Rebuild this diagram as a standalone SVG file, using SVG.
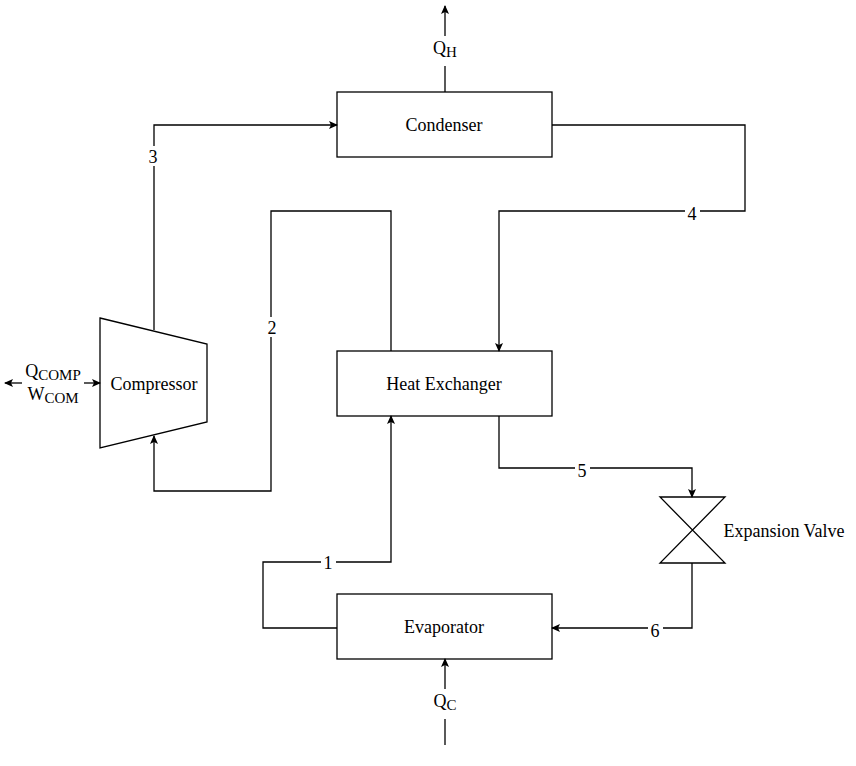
<svg xmlns="http://www.w3.org/2000/svg" width="856" height="766" viewBox="0 0 856 766" font-family="'Liberation Serif', 'Times New Roman', serif">
<style>
text{font-family:'Liberation Serif','Times New Roman',serif;font-size:18px;fill:#000;text-anchor:middle}
.s{font-size:15px}
.l{fill:none;stroke:#000;stroke-width:1.3}
.a{marker-end:url(#ar)}
.bg{fill:#fff;stroke:none}
</style>
<defs><marker id="ar" markerWidth="10" markerHeight="10" refX="8" refY="5" orient="auto" markerUnits="userSpaceOnUse"><path d="M0,1 L9,5 L0,9 L2,5 z" fill="#000"/></marker></defs>
<rect width="856" height="766" fill="#fff"/>
<g id="connectors">
<path class="l a" d="M154,330 V125 H337"/>
<path class="l a" d="M445,92 V6"/>
<path class="l a" d="M552,125 H745 V211 H499 V351"/>
<path class="l a" d="M391,351 V211 H271 V491 H154 V436"/>
<path class="l a" d="M499,416 V468 H692 V497"/>
<path class="l a" d="M692,563 V628 H552"/>
<path class="l a" d="M337,628 H263 V562 H391 V416"/>
<path class="l a" d="M445,745 V659"/>
<path class="l a" d="M22,383 H5"/>
<path class="l a" d="M84,383 H100"/>
<rect class="bg" x="146" y="146" width="15" height="20"/><text x="153" y="163">3</text>
<rect class="bg" x="685" y="203" width="15" height="20"/><text x="692" y="220">4</text>
<rect class="bg" x="265" y="317" width="15" height="20"/><text x="272" y="334">2</text>
<rect class="bg" x="575" y="460" width="15" height="20"/><text x="582" y="477">5</text>
<rect class="bg" x="648" y="620" width="15" height="20"/><text x="655" y="637">6</text>
<rect class="bg" x="321" y="552" width="15" height="20"/><text x="328" y="569">1</text>
<rect class="bg" x="428" y="36" width="34" height="30"/>
<text x="445" y="54">Q<tspan class="s" dy="3">H</tspan></text>
<rect class="bg" x="428" y="689" width="34" height="30"/>
<text x="445" y="707">Q<tspan class="s" dy="3">C</tspan></text>
<text x="53" y="377">Q<tspan class="s" dy="3">COMP</tspan></text>
<text x="53" y="400">W<tspan class="s" dy="3">COM</tspan></text>
</g>
<g id="condenser"><rect class="l" x="337" y="92" width="215" height="65"/><text x="444" y="131">Condenser</text></g>
<g id="heat-exchanger"><rect class="l" x="337" y="351" width="215" height="65"/><text x="444" y="390">Heat Exchanger</text></g>
<g id="evaporator"><rect class="l" x="337" y="594" width="215" height="65"/><text x="444" y="633">Evaporator</text></g>
<g id="compressor"><path class="l" d="M100,318 L207,344 V422 L100,448 Z"/><text x="154" y="390">Compressor</text></g>
<g id="expansion-valve"><path class="l" d="M660,497 H725 L660,563 H725 Z"/><text x="784" y="537">Expansion Valve</text></g>
</svg>
